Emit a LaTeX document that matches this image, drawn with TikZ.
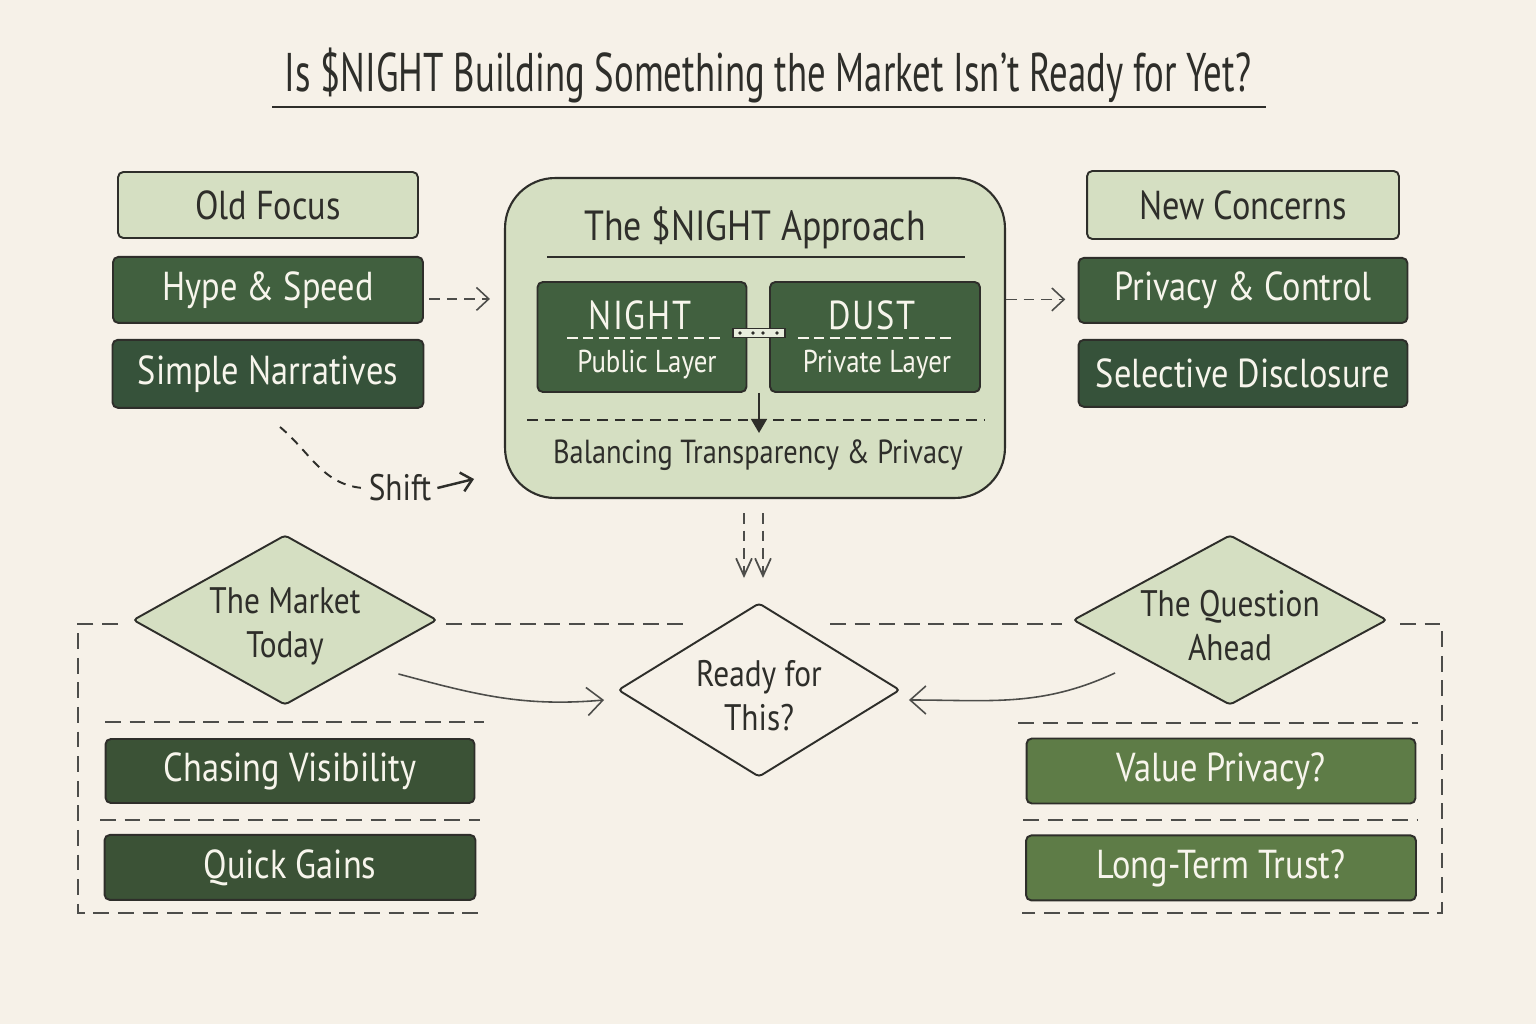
\documentclass[tikz,border=0pt]{standalone}
\usepackage{fontspec}
\setmainfont{PT Sans}[FakeStretch=0.85]
\newfontfamily\titlefont{PT Sans}[FakeStretch=0.675]
\usepackage{xcolor}
\usetikzlibrary{shapes.geometric,arrows.meta,positioning}

\definecolor{paper}{HTML}{F6F1E8}
\definecolor{sage}{HTML}{D5DFC2}
\definecolor{forest}{HTML}{41603F}
\definecolor{pine}{HTML}{36523A}
\definecolor{olive}{HTML}{3B5236}
\definecolor{moss}{HTML}{5E7C47}
\definecolor{ink}{HTML}{2E2E2A}
\definecolor{chalk}{HTML}{F7F5EC}

\begin{document}
\begin{tikzpicture}[
    x=0.02cm, y=-0.02cm,
    node distance=0.32cm,
    lite/.style={rectangle, draw=ink, fill=sage, line width=1.1pt, rounded corners=3pt, align=center, text=ink, font=\fontsize{23}{28}\selectfont},
    deep/.style={rectangle, draw=ink, fill=forest, line width=1.1pt, rounded corners=3pt, align=center, text=chalk, font=\fontsize{23}{28}\selectfont},
    ask/.style={diamond, draw=ink, fill=sage, line width=1.1pt, rounded corners=2pt, inner sep=0pt},
    asktext/.style={align=center, text=ink, yshift=-0.12cm, font=\fontsize{21}{25}\selectfont},
    arr/.style={-{Straight Barb[length=7pt,width=13pt]}, line width=0.9pt, draw=ink!85, dash pattern=on 6pt off 4pt},
    curvearr/.style={-{Straight Barb[length=9pt,width=16pt]}, line width=0.9pt, draw=ink!85},
    frame/.style={dash pattern=on 9pt off 5pt, line width=0.9pt, draw=ink!85}
]
    \useasboundingbox (0,0) rectangle (1536,1024);
    \fill [paper] (0,0) rectangle (1536,1024);

    % title
    \node [text=ink, font=\titlefont\fontsize{31}{34}\selectfont] (title) at (768,75) {Is \$NIGHT Building Something the Market Isn’t Ready for Yet?};
    \draw [ink, line width=1.3pt] (272,107) -- (1266,107);

    % left column
    \node [lite, minimum width=6cm, minimum height=1.32cm] (old) at (268,205) {Old Focus};
    \node [deep, minimum width=6.2cm, minimum height=1.32cm, below=0.34cm of old] (hype) {Hype \& Speed};
    \node [deep, fill=pine, minimum width=6.22cm, minimum height=1.36cm, below=0.3cm of hype] (simple) {Simple Narratives};

    % right column
    \node [lite, minimum width=6.24cm, minimum height=1.36cm] (newc) at (1243,205) {New Concerns};
    \node [deep, minimum width=6.58cm, minimum height=1.3cm, below=0.34cm of newc] (privc) {Privacy \& Control};
    \node [deep, fill=pine, minimum width=6.58cm, minimum height=1.34cm, below=0.3cm of privc] (selec) {Selective Disclosure};

    % the approach
    \node [draw=ink, fill=sage, line width=1.2pt, rounded corners=1cm, minimum width=10cm, minimum height=6.4cm] (approach) at (755,338) {};
    \node [text=ink, font=\fontsize{24}{28}\selectfont] (apphead) at (755,228) {The \$NIGHT Approach};
    \draw [ink, line width=0.8pt] (547,257) -- (965,257);
    \node [deep, minimum width=4.18cm, minimum height=2.2cm] (night) at (642,337) {};
    \node [deep, minimum width=4.2cm, minimum height=2.2cm] (dust) at (875,337) {};
    \node [text=chalk, font=\fontsize{23}{26}\selectfont] (nightlbl) at (640,315) {N\kern1pt I\kern1pt G\kern1pt H\kern1pt T};
    \node [text=chalk, font=\fontsize{18}{22}\selectfont] (publbl) at (647,365) {Public Layer};
    \node [text=chalk, font=\fontsize{23}{26}\selectfont] (dustlbl) at (872,315) {D\kern1pt U\kern1pt S\kern1pt T};
    \node [text=chalk, font=\fontsize{18}{22}\selectfont] (privlbl) at (877,365) {Private Layer};
    \draw [chalk, line width=0.9pt, dash pattern=on 6pt off 3pt] (567,338) -- (723,338);
    \draw [chalk, line width=0.9pt, dash pattern=on 6pt off 3pt] (798,338) -- (955,338);
    \node [draw=ink, fill=sage!55!white, line width=0.7pt, inner sep=0pt, minimum width=1.04cm, minimum height=0.17cm] (link) at (759,333) {};
    \foreach \dx in {-19,-6,4,18}
        \fill [ink] (759+\dx,333) circle (1.1pt);
    \coordinate (merge) at (759,433);
    \draw [ink, line width=0.8pt, dash pattern=on 6pt off 4pt] (527,420) -- (985,420);
    \draw [-{Triangle[length=8pt,width=9pt]}, ink, line width=1.3pt] (link |- night.south) -- (merge);
    \node [text=ink, font=\fontsize{19}{22}\selectfont] (balance) at (758,455) {Balancing Transparency \& Privacy};

    \draw [arr, shorten <=3pt, shorten >=8pt] ([yshift=-0.18cm]hype.east) -- ([yshift=-0.18cm]hype.east -| approach.west);
    \draw [arr, shorten >=7pt] ([yshift=-0.18cm]privc.west -| approach.east) -- ([yshift=-0.18cm]privc.west);

    % shift
    \node [text=ink, font=\fontsize{21}{24}\selectfont] (shift) at (400,488) {Shift};
    \coordinate (shiftfrom) at (280,427);
    \coordinate (shifttip) at (474,479);
    \draw [ink, line width=1.1pt, dash pattern=on 5pt off 4pt] (shiftfrom) to[out=-40, in=175] (shift.west);
    \draw [-{Straight Barb[length=6pt,width=11pt]}, ink, line width=1.4pt] (shift.east) -- (shifttip);

    % decisions
    \node [ask, fill=paper, minimum width=5.64cm, minimum height=3.48cm, label={[asktext]center:Ready for\\This?}] (ready) at (759,690) {};
    \node [ask, minimum width=6.08cm, minimum height=3.4cm, label={[asktext]center:The Market\\Today}] (market) at (285,620) {};
    \node [ask, minimum width=6.28cm, minimum height=3.4cm, label={[asktext]center:The Question\\Ahead}] (question) at (1230,620) {};

    \foreach \dx in {-0.22,0.16}
        \draw [arr, line width=1pt, -{Straight Barb[length=10pt,width=9pt]}] ([xshift=\dx cm, yshift=-0.28cm]approach.south) -- ++(0,65);
    \draw [curvearr] ([shift={(0.74cm,-0.22cm)}]market.south east) to[out=-15, in=185] ([shift={(-0.26cm,-0.2cm)}]ready.west);
    \draw [curvearr] ([shift={(-0.72cm,-0.2cm)}]question.south west) to[out=205, in=0] ([shift={(0.16cm,-0.2cm)}]ready.east);

    % left frame
    \draw [frame] (118,624) -| (78,913) -- (485,913);
    \draw [frame] (446,624) -- (683,624);
    \draw [frame] (105,722) -- (484,722);
    \draw [frame] (100,820) -- (480,820);
    \node [deep, fill=olive, minimum width=7.38cm, minimum height=1.28cm] (chasing) at (290,771) {Chasing Visibility};
    \node [deep, fill=olive, minimum width=7.42cm, minimum height=1.3cm, below=0.6cm of chasing] (quick) {Quick Gains};

    % right frame
    \draw [frame] (830,624) -- (1062,624);
    \draw [frame] (1400,624) -| (1442,913) -- (1022,913);
    \draw [frame] (1018,723) -- (1418,723);
    \draw [frame] (1023,820) -- (1418,820);
    \node [deep, fill=moss, minimum width=7.78cm, minimum height=1.3cm] (value) at (1221,771) {Value Privacy?};
    \node [deep, fill=moss, minimum width=7.8cm, minimum height=1.3cm, below=0.6cm of value] (trust) {Long-Term Trust?};
\end{tikzpicture}
\end{document}
